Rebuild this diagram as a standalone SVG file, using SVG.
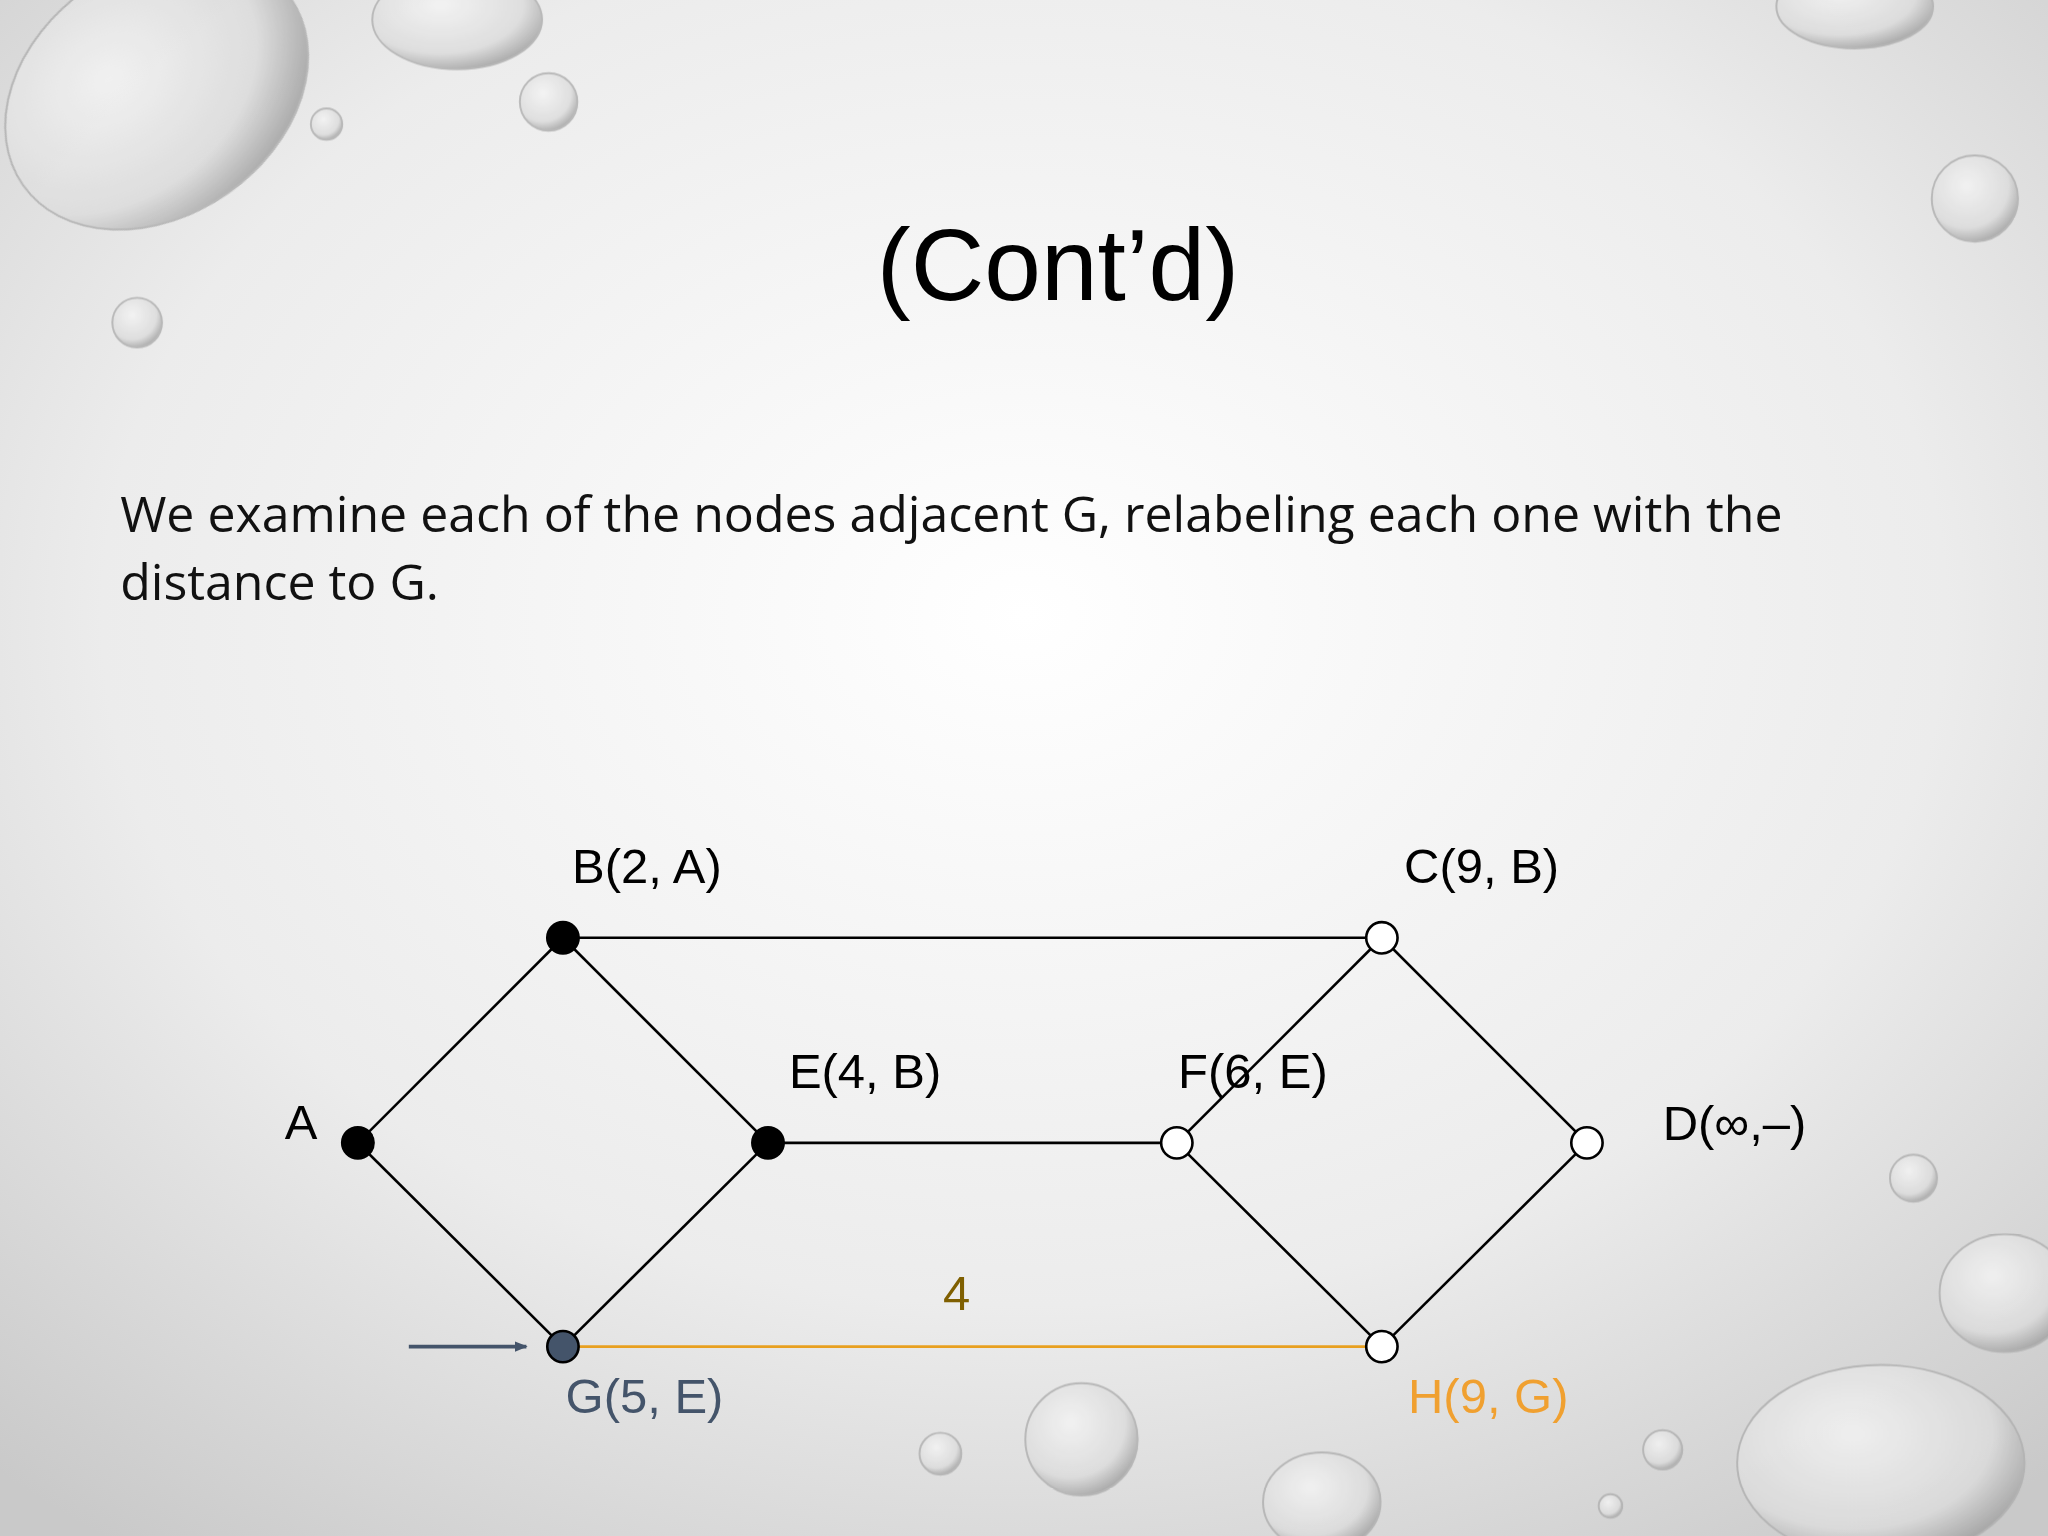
<svg xmlns="http://www.w3.org/2000/svg" width="2048" height="1536" viewBox="0 0 2048 1536">
<defs>
<radialGradient id="bg" cx="0.5" cy="0.4" r="0.75">
<stop offset="0" stop-color="#ffffff"/><stop offset="0.6" stop-color="#ececec"/><stop offset="1" stop-color="#c9c9c9"/>
</radialGradient>
<radialGradient id="drop" cx="0.4" cy="0.35" r="0.7">
<stop offset="0" stop-color="#f4f4f4"/><stop offset="0.7" stop-color="#dcdcdc"/><stop offset="1" stop-color="#9a9a9a"/>
</radialGradient>
<marker id="ar" markerWidth="10" markerHeight="8" refX="9" refY="4" orient="auto" markerUnits="userSpaceOnUse"><path d="M0,0 L10,4 L0,8 z" fill="#44546A"/></marker>
<style>
.e{stroke:#000;stroke-width:2;fill:none}
.lbl{font-family:"Liberation Sans",Arial,sans-serif;font-size:37.5px}
.blk{fill:#000;stroke:#000;stroke-width:2}
.wht{fill:#fff;stroke:#000;stroke-width:2}
.d{fill:url(#drop);stroke:#b0b0b0;stroke-width:1.5}
</style>
</defs>
<rect width="2048" height="1536" fill="url(#bg)"/>
<g transform="scale(1.306122)">
<g id="drops" opacity="0.85">
<ellipse class="d" cx="120" cy="70" rx="125" ry="95" transform="rotate(-35 120 70)"/>
<ellipse class="d" cx="350" cy="15" rx="65" ry="38"/>
<circle class="d" cx="420" cy="78" r="22"/>
<circle class="d" cx="250" cy="95" r="12"/>
<circle class="d" cx="105" cy="247" r="19"/>
<circle class="d" cx="1512" cy="152" r="33"/>
<ellipse class="d" cx="1420" cy="5" rx="60" ry="32"/>
<circle class="d" cx="1465" cy="902" r="18"/>
<ellipse class="d" cx="1535" cy="990" rx="50" ry="45"/>
<ellipse class="d" cx="1440" cy="1120" rx="110" ry="75"/>
<circle class="d" cx="828" cy="1102" r="43"/>
<circle class="d" cx="720" cy="1113" r="16"/>
<ellipse class="d" cx="1012" cy="1150" rx="45" ry="38"/>
<circle class="d" cx="1273" cy="1110" r="15"/>
<circle class="d" cx="1233" cy="1153" r="9"/>
</g>
<text x="810" y="230" text-anchor="middle" font-family="'Liberation Sans',Arial,sans-serif" font-size="78" fill="#000">(Cont’d)</text>
<text font-family="'Open Sans',sans-serif" font-size="38.3" fill="#111"><tspan x="92" y="407">We examine each of the nodes adjacent G, relabeling each one with the</tspan><tspan x="92" y="459">distance to G.</tspan></text>
<g id="connectors">
<line class="e" x1="274" y1="875" x2="431" y2="718"/>
<line class="e" x1="274" y1="875" x2="431" y2="1031"/>
<line class="e" x1="431" y1="718" x2="588" y2="875"/>
<line class="e" x1="431" y1="718" x2="1058" y2="718"/>
<line class="e" x1="588" y1="875" x2="431" y2="1031"/>
<line class="e" x1="588" y1="875" x2="901" y2="875"/>
<line class="e" x1="901" y1="875" x2="1058" y2="718"/>
<line class="e" x1="901" y1="875" x2="1058" y2="1031"/>
<line class="e" x1="1058" y1="718" x2="1215" y2="875"/>
<line class="e" x1="1215" y1="875" x2="1058" y2="1031"/>
<line x1="431" y1="1031" x2="1058" y2="1031" stroke="#E8A020" stroke-width="2"/>
<line x1="313" y1="1031" x2="403" y2="1031" stroke="#44546A" stroke-width="3" marker-end="url(#ar)"/>
</g>
<g id="nA"><circle class="blk" cx="274" cy="875" r="12"/><text class="lbl" x="218" y="872">A</text></g>
<g id="nB"><circle class="blk" cx="431" cy="718" r="12"/><text class="lbl" x="438" y="676">B(2, A)</text></g>
<g id="nC"><circle class="wht" cx="1058" cy="718" r="12"/><text class="lbl" x="1075" y="676">C(9, B)</text></g>
<g id="nE"><circle class="blk" cx="588" cy="875" r="12"/><text class="lbl" x="604" y="833">E(4, B)</text></g>
<g id="nF"><circle class="wht" cx="901" cy="875" r="12"/><text class="lbl" x="902" y="833">F(6, E)</text></g>
<g id="nD"><circle class="wht" cx="1215" cy="875" r="12"/><text class="lbl" x="1273" y="873">D(∞,–)</text></g>
<g id="nG"><circle cx="431" cy="1031" r="12" fill="#44546A" stroke="#000" stroke-width="2"/><text class="lbl" x="433" y="1082" fill="#44546A">G(5, E)</text></g>
<g id="nH"><circle class="wht" cx="1058" cy="1031" r="12"/><text class="lbl" x="1078" y="1082" fill="#F0A030">H(9, G)</text></g>
<text class="lbl" x="722" y="1003" fill="#7F5F00">4</text>
</g>
</svg>
